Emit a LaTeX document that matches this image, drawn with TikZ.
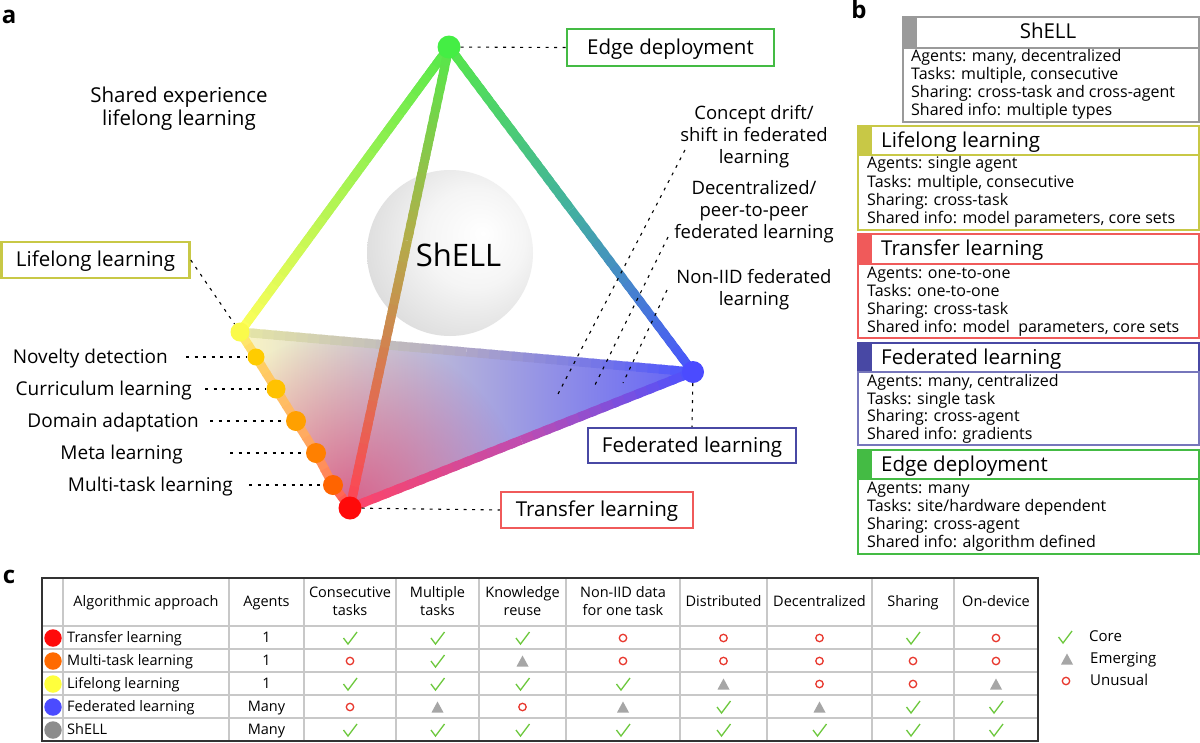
\documentclass[tikz,border=0pt]{standalone}
\usepackage{fontspec}
\setmainfont{Open Sans}
\usetikzlibrary{calc,fadings}
% vertex colours
\definecolor{cED}{HTML}{44EE44}
\definecolor{cLL}{HTML}{FAFA4A}
\definecolor{cFL}{HTML}{4B4BFF}
\definecolor{cTL}{HTML}{FF0A0A}
\definecolor{cND}{HTML}{FFCC00}
\definecolor{cCL}{HTML}{FFC200}
\definecolor{cDA}{HTML}{FFA000}
\definecolor{cML}{HTML}{FF8000}
\definecolor{cMT}{HTML}{FF6400}
% box colours
\definecolor{bED}{HTML}{44BB44}
\definecolor{bLL}{HTML}{C8C846}
\definecolor{bTL}{HTML}{F05A5A}
\definecolor{bFL}{HTML}{4848A4}
\definecolor{bSH}{HTML}{9A9A9A}
% edge gradient colours
\definecolor{gA}{HTML}{55E84A}
\definecolor{gB}{HTML}{FFFF5A}
\definecolor{gC}{HTML}{B4AC4A}
\definecolor{gD}{HTML}{FF4256}
\definecolor{gE}{HTML}{42B0A0}
\definecolor{gF}{HTML}{4A52FF}
\definecolor{gG}{HTML}{E6E6A6}
\definecolor{gH}{HTML}{AEA6C8}
\definecolor{gI}{HTML}{C04CB0}
\definecolor{gJ}{HTML}{FF4466}
\definecolor{k0}{HTML}{FFF070}
\definecolor{k1}{HTML}{FFD262}
\definecolor{k2}{HTML}{FFC264}
\definecolor{k3}{HTML}{FFB464}
\definecolor{k4}{HTML}{FF9C5C}
\definecolor{k5}{HTML}{FF7A58}
\definecolor{k6}{HTML}{FF4A50}
% face colours
\definecolor{fY}{HTML}{FBF6C4}
\definecolor{fM}{HTML}{E8E3F5}
\definecolor{fB}{HTML}{6262F6}
\definecolor{fR}{HTML}{D83C74}
% table colours
\definecolor{cCk}{HTML}{6CC83C}
\definecolor{cEm}{HTML}{A6A6A6}
\definecolor{cUn}{HTML}{E8382E}
\definecolor{tGrid}{HTML}{C8C8C8}
\definecolor{tBord}{HTML}{333333}
\definecolor{rOr}{HTML}{FF6A00}
\definecolor{rYe}{HTML}{FFFF3C}
\definecolor{rGr}{HTML}{8C8C8C}

\tikzfading[name=redfade, inner color=transparent!25, outer color=transparent!100]
\pgfdeclareradialshading{sphshade}{\pgfpoint{10bp}{6bp}}{color(0bp)=(white); color(15bp)=(white!96!black); color(45bp)=(white!79!black); color(64bp)=(white!72!black)}

\newcommand\gradseg[5]{%
  \foreach \gk in {1,...,#5}{%
    \pgfmathsetmacro\gsa{(\gk-1)/#5}%
    \pgfmathsetmacro\gsb{min(1,\gk/#5+0.03)}%
    \pgfmathtruncatemacro\gsp{round(100-100*(\gk-0.5)/#5)}%
    \draw[edgeline, draw=#3!\gsp!#4] ($(#1)!\gsa!(#2)$) -- ($(#1)!\gsb!(#2)$);
  }}
\newcommand\blines[5]{%
  \foreach \bl [count=\bn] in {#5}{%
    \node[bodytxt] (#4\bn) at (#1,{#2+#3*(\bn-1)}) {\bl};}}
\def\colx{{350,437.5,522.5,623,723.5,819.5,913,996}}
\newcommand\symrow[2]{%
  \foreach \sy [count=\sc] in {#2}{%
    \pgfmathsetmacro\sx{\colx[\sc-1]}%
    \pic at (\sx,#1) {sym\sy};}}

\begin{document}
\begin{tikzpicture}[x=1pt,y=-1pt,
  edgeline/.style={line width=9pt, line cap=butt},
  leader/.style={draw=black, line width=1.1pt, dash pattern=on 3pt off 5.5pt},
  dot/.style={circle, inner sep=0pt},
  bigtxt/.style={font=\fontsize{20.5}{24}\selectfont, inner sep=0pt, text height=13.5pt, text depth=0pt},
  midtxt/.style={font=\fontsize{18.5}{22}\selectfont, inner sep=0pt, text height=12.2pt, text depth=0pt},
  subtxt/.style={font=\fontsize{19}{22}\selectfont, inner sep=0pt, text height=12.5pt, text depth=0pt, anchor=east},
  abox/.style={bigtxt, draw, line width=2.5pt},
  bodytxt/.style={font=\fontsize{16}{18}\selectfont, inner sep=0pt, text height=10.6pt, text depth=0pt, anchor=west},
  hdrtxt/.style={bigtxt, anchor=west},
  bhead/.style={draw, line width=1.6pt, inner sep=0pt, anchor=north west},
  tbtxt/.style={font=\fontsize{14.5}{17}\selectfont, inner sep=0pt, text height=9.6pt, text depth=0pt},
  lgtxt/.style={font=\fontsize{15}{17}\selectfont, inner sep=0pt, text height=9.9pt, text depth=0pt, anchor=west},
  paneltxt/.style={font=\bfseries\fontsize{24}{24}\selectfont, inner sep=0pt, anchor=base},
  symc/.pic={\draw[draw=cCk, line width=1.3pt, line join=miter] (-6.5,0) -- (-2,6) -- (7,-6);},
  syme/.pic={\fill[cEm] (-6,5.5) -- (6,5.5) -- (0,-5.5) -- cycle;},
  symu/.pic={\draw[cUn, line width=1.3pt] (0,0) circle (3.7pt);}
]
\fill[white] (0,0) rectangle (1200,742);
\useasboundingbox (0,0) rectangle (1200,742);

% ---------------- panel a ----------------
\node[paneltxt] (pa) at (9,23) {a};
\coordinate (ed) at (449,47);
\coordinate (ll) at (240,332);
\coordinate (fl) at (693,372);
\coordinate (tl) at (350,508);
\coordinate (nd) at (256,357);
\coordinate (cl) at (276,389);
\coordinate (da) at (296,421);
\coordinate (ml) at (316,453);
\coordinate (mt) at (333,485);
\coordinate (etm) at ($(ed)!0.42!(tl)$);
\coordinate (efm) at ($(ed)!0.5!(fl)$);
\coordinate (lfm) at ($(ll)!0.5!(fl)$);
\coordinate (tfm) at ($(tl)!0.5!(fl)$);

% face
\begin{scope}
  \clip (ll) -- (tl) -- (fl) -- cycle;
  \shade[left color=fY, middle color=fM, right color=fB] (ll) -- (tl) -- (fl) -- cycle;
  \fill[fR, path fading=redfade] (tl) circle (175pt);
\end{scope}

% back edge
\gradseg{ll}{lfm}{gG}{gH}{20}
\gradseg{lfm}{fl}{gH}{gF}{20}

% sphere
\node[circle, minimum size=166pt, inner sep=0pt, shading=sphshade] (sph) at (450,253) {};

% edges
\gradseg{ed}{ll}{gA}{gB}{30}
\gradseg{ed}{efm}{gA}{gE}{20}
\gradseg{efm}{fl}{gE}{gF}{20}
\gradseg{ed}{etm}{gA}{gC}{20}
\gradseg{etm}{tl}{gC}{gD}{25}
\gradseg{tl}{tfm}{gJ}{gI}{15}
\gradseg{tfm}{fl}{gI}{gF}{15}
\gradseg{ll}{nd}{k0}{k1}{4}
\gradseg{nd}{cl}{k1}{k2}{4}
\gradseg{cl}{da}{k2}{k3}{4}
\gradseg{da}{ml}{k3}{k4}{4}
\gradseg{ml}{mt}{k4}{k5}{4}
\gradseg{mt}{tl}{k5}{k6}{4}

\node[font=\fontsize{31}{34}\selectfont, inner sep=0pt, text height=20.5pt, text depth=0pt] (shelltxt) at (458.5,256) {ShELL};

% dots
\node[dot, fill=cED, minimum size=23pt] (edv) at (ed) {};
\node[dot, fill=cLL, minimum size=19pt] (llv) at (ll) {};
\node[dot, fill=cFL, minimum size=22pt] (flv) at (fl) {};
\node[dot, fill=cTL, minimum size=23pt] (tlv) at (tl) {};
\node[dot, fill=cND, minimum size=17pt] (ndv) at (nd) {};
\node[dot, fill=cCL, minimum size=19pt] (clv) at (cl) {};
\node[dot, fill=cDA, minimum size=20pt] (dav) at (da) {};
\node[dot, fill=cML, minimum size=20pt] (mlv) at (ml) {};
\node[dot, fill=cMT, minimum size=20pt] (mtv) at (mt) {};

% labels
\node[bigtxt] (sha) at (179,96) {Shared experience};
\node[bigtxt] (shb) at (179,119) {lifelong learning};

\node[abox, draw=bED, minimum width=207pt, minimum height=37pt] (edbox) at (670.5,47.5) {Edge deployment};
\node[abox, draw=bLL, minimum width=188pt, minimum height=36pt] (llbox) at (95.5,260) {Lifelong learning};
\node[abox, draw=bTL, minimum width=192pt, minimum height=36pt] (tlbox) at (597,510) {Transfer learning};
\node[abox, draw=bFL, minimum width=208pt, minimum height=35pt] (flbox) at (692,445.5) {Federated learning};

\draw[leader] (edv) -- (edbox.west);
\draw[leader] (llbox.east) -- (llv);
\draw[leader] (tlv) -- (tlbox.west);
\draw[leader] (flv) -- (flbox.north);

\node[subtxt] (ndl) at (168,357) {Novelty detection};
\node[subtxt] (cll) at (192,389) {Curriculum learning};
\node[subtxt] (dal) at (199,421) {Domain adaptation};
\node[subtxt] (mll) at (183,453) {Meta learning};
\node[subtxt] (mtl) at (233,485) {Multi-task learning};
\coordinate (nds) at (186,357);
\coordinate (cls) at (205,389);
\coordinate (das) at (210,421);
\coordinate (mls) at (230,453);
\coordinate (mts) at (249,485);
\draw[leader] (nds) -- (ndv);
\draw[leader] (cls) -- (clv);
\draw[leader] (das) -- (dav);
\draw[leader] (mls) -- (mlv);
\draw[leader] (mts) -- (mtv);

\node[midtxt] (cd1) at (754,113) {Concept drift/};
\node[midtxt] (cd2) at (754,135) {shift in federated};
\node[midtxt] (cd3) at (754,157) {learning};
\node[midtxt] (dc1) at (754,188) {Decentralized/};
\node[midtxt] (dc2) at (754,210) {peer-to-peer};
\node[midtxt] (dc3) at (754,232) {federated learning};
\node[midtxt] (ni1) at (754,277) {Non-IID federated};
\node[midtxt] (ni2) at (754,299) {learning};
\coordinate (cda) at (685,150);
\coordinate (cdb) at (558,394);
\coordinate (dca) at (668,237);
\coordinate (dcb) at (594,387);
\coordinate (nia) at (667,290);
\coordinate (nib) at (623,383);
\draw[leader] (cda) -- (cdb);
\draw[leader] (dca) -- (dcb);
\draw[leader] (nia) -- (nib);

% ---------------- panel b ----------------
\node[paneltxt] (pb) at (859,18) {b};
% ShELL
\node[bhead, draw=bSH, minimum width=296pt, minimum height=31pt] (shh) at (902,16) {};
\fill[bSH] (shh.north west) rectangle ++(15,31);
\node[bigtxt] (shht) at (1048,32) {ShELL};
\node[bhead, draw=bSH, minimum width=296pt, minimum height=74pt] (shb) at (902,47) {};
\blines{911}{56}{18}{shl}{{Agents: many, decentralized},{Tasks: multiple, consecutive},{Sharing: cross-task and cross-agent},{Shared info: multiple types}}
% Lifelong
\node[bhead, draw=bLL, minimum width=341pt, minimum height=29pt] (llh) at (857,125) {};
\fill[bLL] (llh.north west) rectangle ++(15,29);
\node[hdrtxt] (llht) at (881,141) {Lifelong learning};
\node[bhead, draw=bLL, minimum width=341pt, minimum height=75pt] (llb) at (857,154) {};
\blines{867}{163.5}{18.2}{lll}{{Agents: single agent},{Tasks: multiple, consecutive},{Sharing: cross-task},{Shared info: model parameters, core sets}}
% Transfer
\node[bhead, draw=bTL, minimum width=341pt, minimum height=30pt] (tlh) at (857,233) {};
\fill[bTL] (tlh.north west) rectangle ++(15,30);
\node[hdrtxt] (tlht) at (881,249) {Transfer learning};
\node[bhead, draw=bTL, minimum width=341pt, minimum height=74pt] (tlb) at (857,263) {};
\blines{867}{273}{18}{tll}{{Agents: one-to-one},{Tasks: one-to-one},{Sharing: cross-task},{Shared info: model\ \ parameters, core sets}}
% Federated
\node[bhead, draw=bFL, minimum width=341pt, minimum height=29pt] (flh) at (857,342) {};
\fill[bFL] (flh.north west) rectangle ++(15,29);
\node[hdrtxt] (flht) at (881,358) {Federated learning};
\node[bhead, draw=bFL!75, minimum width=341pt, minimum height=73pt] (flb) at (857,371) {};
\blines{867}{381}{17.8}{fll}{{Agents: many, centralized},{Tasks: single task},{Sharing: cross-agent},{Shared info: gradients}}
% Edge
\node[bhead, draw=bED, minimum width=341pt, minimum height=29pt] (edh) at (857,449) {};
\fill[bED] (edh.north west) rectangle ++(15,29);
\node[hdrtxt] (edht) at (881,465) {Edge deployment};
\node[bhead, draw=bED, minimum width=341pt, minimum height=75pt] (edb) at (857,478) {};
\blines{867}{488}{18}{edl}{{Agents: many},{Tasks: site/hardware dependent},{Sharing: cross-agent},{Shared info: algorithm defined}}

% ---------------- panel c ----------------
\node[paneltxt] (pc) at (9,583) {c};
\foreach \xx in {63,229,304,396,479,566,680,767,872,954}
  \draw[tGrid, line width=1.4pt] (\xx,578) -- (\xx,741);
\foreach \yy in {626,649,672,695,718}
  \draw[tGrid, line width=1.4pt] (42,\yy) -- (1038,\yy);
\draw[tBord, line width=1.6pt] (42,578) rectangle (1038,741);

\node[tbtxt] (hAlg) at (146,602) {Algorithmic approach};
\node[tbtxt] (hAg) at (266.5,602) {Agents};
\node[tbtxt] (hCo1) at (350,593) {Consecutive};
\node[tbtxt] (hCo2) at (350,611) {tasks};
\node[tbtxt] (hMu1) at (437.5,593) {Multiple};
\node[tbtxt] (hMu2) at (437.5,611) {tasks};
\node[tbtxt] (hKn1) at (522.5,593) {Knowledge};
\node[tbtxt] (hKn2) at (522.5,611) {reuse};
\node[tbtxt] (hNi1) at (623,593) {Non-IID data};
\node[tbtxt] (hNi2) at (623,611) {for one task};
\node[tbtxt] (hDi) at (723.5,602) {Distributed};
\node[tbtxt] (hDe) at (819.5,602) {Decentralized};
\node[tbtxt] (hSh) at (913,602) {Sharing};
\node[tbtxt] (hOn) at (996,602) {On-device};

\foreach \lab/\ag/\cc/\yy [count=\rr] in {Transfer learning/1/cTL/638, Multi-task learning/1/rOr/661, Lifelong learning/1/rYe/684, Federated learning/Many/cFL/707, ShELL/Many/rGr/730}{
  \node[dot, fill=\cc, minimum size=17.5pt] (rc\rr) at (53,\yy) {};
  \node[tbtxt, anchor=west] (rl\rr) at (67,\yy) {\lab};
  \node[tbtxt] (ra\rr) at (266.5,\yy) {\ag};
}
\symrow{638}{c,c,c,u,u,u,c,u}
\symrow{661}{u,c,e,u,u,u,u,u}
\symrow{684}{c,c,c,c,e,u,u,e}
\symrow{707}{u,e,u,e,c,e,c,c}
\symrow{730}{c,c,c,c,c,c,c,c}

% legend
\pic at (1065,637) {symc};
\pic at (1067,659) {syme};
\pic at (1066,681) {symu};
\node[lgtxt] (lgC) at (1089,637) {Core};
\node[lgtxt] (lgE) at (1090,659) {Emerging};
\node[lgtxt] (lgU) at (1090,681) {Unusual};
\end{tikzpicture}
\end{document}
